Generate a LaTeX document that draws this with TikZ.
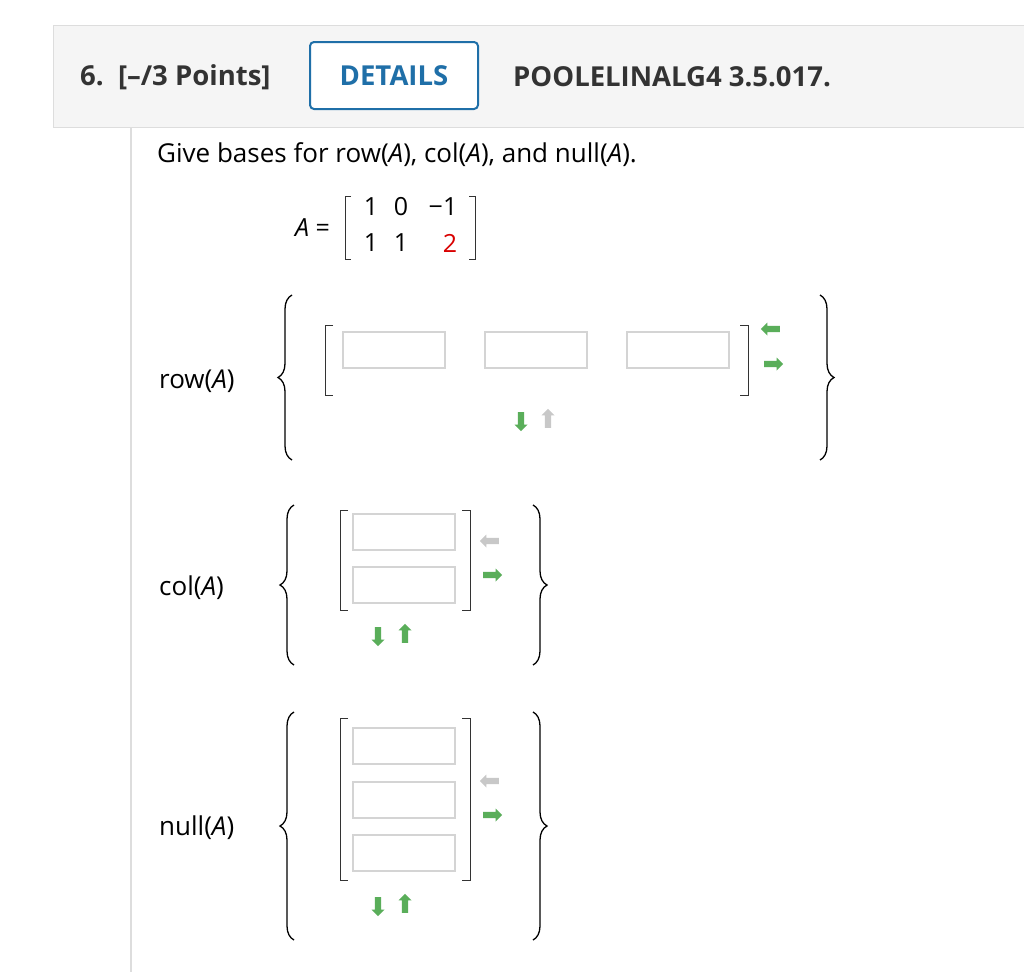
\documentclass[tikz,border=0pt]{standalone}
\usepackage{fontspec}
\setmainfont{Open Sans}
\usetikzlibrary{shapes.arrows,decorations.pathreplacing}
\definecolor{hdr}{HTML}{F5F5F5}
\definecolor{hdrline}{HTML}{DDDDDD}
\definecolor{btn}{HTML}{1F6FA8}
\definecolor{grn}{HTML}{5AAE5A}
\definecolor{gry}{HTML}{C8C8C8}
\definecolor{boxl}{HTML}{D4D4D4}
\tikzset{
 x=1pt,y=-1pt,
 txt/.style={inner sep=0,font=\fontsize{26}{30}\selectfont},
 mtx/.style={inner sep=0,font=\fontsize{25}{29}\selectfont},
 hd/.style={inner sep=0,font=\fontsize{27.5}{32}\selectfont\bfseries,text=black!80},
 inbox/.style={draw=boxl,line width=1.2pt,fill=white},
 brk/.style={line width=1pt,draw=black!80},
 brc/.style={decorate,decoration={brace,amplitude=14pt},line width=1.3pt},
 arr/.style={single arrow,minimum height=19pt,minimum width=13pt,single arrow head extend=2.5pt,inner sep=2.2pt,draw=none},
}
\newcommand{\ibox}[3]{\draw[inbox] (#1,#2) rectangle ++(102,36) coordinate (#3);}
\begin{document}
\begin{tikzpicture}
\useasboundingbox (0,0) rectangle (1024,972);
\fill[white] (0,0) rectangle (1024,972);
% header
\draw[hdrline,fill=hdr] (1030,25) -- (53,25) -- (53,127) -- (1030,127);
\node[hd,anchor=west] (num) at (80,77) {6.\ \ [–/3 Points]};
\draw[btn,line width=2pt,fill=white,rounded corners=4pt] (310,42) rectangle (478,109);
\node[hd,text=btn] (det) at (394,76) {DETAILS};
\node[hd,anchor=west] (src) at (513,77) {POOLELINALG4 3.5.017.};
\draw[hdrline,line width=1.5pt] (131,127) -- (131,972);
\node[txt,anchor=west] (q) at (157,155) {Give bases for row(\textit{A}), col(\textit{A}), and null(\textit{A}).};
% matrix A
\node[mtx,anchor=east] (Aeq) at (330,228) {\textit{A} =};
\draw[brk] (351,196) -- (345,196) -- (345,259) -- (351,259);
\draw[brk] (469,196) -- (475,196) -- (475,259) -- (469,259);
\node[mtx] (a11) at (371,207) {1};
\node[mtx] (a12) at (401,207) {0};
\node[mtx] (a13) at (443,207) {−1};
\node[mtx] (a21) at (371,243) {1};
\node[mtx] (a22) at (401,243) {1};
\node[mtx,text=red!85!black] (a23) at (450,243) {2};
% row(A)
\node[txt,anchor=west] (rowl) at (159,381) {row(\textit{A})};
\draw[brc] (292,460) -- (292,295);
\draw[brc] (820,295) -- (820,460);
\draw[brk] (333,325) -- (325,325) -- (325,395) -- (333,395);
\draw[brk] (740,325) -- (748,325) -- (748,395) -- (740,395);
\ibox{343}{332}{r1}\ibox{485}{332}{r2}\ibox{627}{332}{r3}
\node[arr,fill=grn,shape border rotate=180] (rl) at (772,329) {};
\node[arr,fill=grn] (rr) at (772,364) {};
\node[arr,fill=grn,shape border rotate=270] (rd) at (521,420) {};
\node[arr,fill=gry,shape border rotate=90] (ru) at (548,420) {};
% col(A)
\node[txt,anchor=west] (coll) at (159,588) {col(\textit{A})};
\draw[brc] (294,665) -- (294,505);
\draw[brc] (533,505) -- (533,665);
\draw[brk] (348,510) -- (340,510) -- (340,610) -- (348,610);
\draw[brk] (462,510) -- (470,510) -- (470,610) -- (462,610);
\ibox{353}{514}{c1}\ibox{353}{567}{c2}
\node[arr,fill=gry,shape border rotate=180] (cl) at (491,541) {};
\node[arr,fill=grn] (cr) at (491,575) {};
\node[arr,fill=grn,shape border rotate=270] (cd) at (378,635) {};
\node[arr,fill=grn,shape border rotate=90] (cu) at (405,635) {};
% null(A)
\node[txt,anchor=west] (nulll) at (159,828) {null(\textit{A})};
\draw[brc] (294,940) -- (294,712);
\draw[brc] (533,712) -- (533,940);
\draw[brk] (348,718) -- (340,718) -- (340,880) -- (348,880);
\draw[brk] (462,718) -- (470,718) -- (470,880) -- (462,880);
\ibox{353}{728}{n1}\ibox{353}{782}{n2}\ibox{353}{835}{n3}
\node[arr,fill=gry,shape border rotate=180] (nl) at (491,781) {};
\node[arr,fill=grn] (nr) at (491,815) {};
\node[arr,fill=grn,shape border rotate=270] (nd) at (378,905) {};
\node[arr,fill=grn,shape border rotate=90] (nu) at (405,905) {};
\end{tikzpicture}
\end{document}
